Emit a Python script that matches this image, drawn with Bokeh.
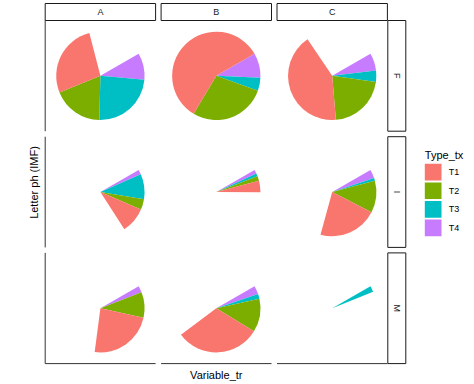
import numpy as np
from bokeh.plotting import figure
from bokeh.models import ColumnDataSource, Range1d
from bokeh.core.properties import value
from bokeh.embed import file_html
from bokeh.resources import INLINE

# ---------------- data ----------------
col_labels = ["A", "B", "C"]
row_labels = ["F", "I", "M"]
type_labels = ["T1", "T2", "T3", "T4"]
type_colors = ["#F8766D", "#7CAE00", "#00BFC4", "#C77CFF"]

# panels in order (F,A) (F,B) (F,C) (I,A) (I,B) (I,C) (M,A) (M,B) (M,C)
panel_col = ["A", "B", "C"] * 3
panel_row = ["F"] * 3 + ["I"] * 3 + ["M"] * 3
t1 = [27.1, 58.1, 41.9, 9.4, 4.2, 21.7, 23.6, 31.0, 0.0]
t2 = [18.5, 28.1, 21.4, 3.9, 1.7, 11.7, 9.4, 12.2, 0.0]
t3 = [24.0, 4.8, 4.2, 9.2, 1.1, 1.0, 0.0, 1.8, 2.2]
t4 = [9.7, 9.0, 6.4, 1.7, 1.4, 3.2, 2.4, 3.1, 0.0]
series = {"T1": t1, "T2": t2, "T3": t3, "T4": t4}

# ---------------- layout (page pixels) ----------------
W, H = 474, 384


def Y(s):  # page y (down) -> data y (up)
    return H - s


px0, pw, gap = 44.7, 110.4, 5.5
strip_top, strip_h = 3.0, 17.0
py0, ph = strip_top + strip_h, 110.7
rs_x0, rs_x1 = 387.3, 405.3

col_left = {c: px0 + i * (pw + gap) for i, c in enumerate(col_labels)}
row_top = {r: py0 + i * (ph + gap) for i, r in enumerate(row_labels)}

p = figure(width=W, height=H, output_backend="svg", toolbar_location=None,
           x_range=Range1d(0, W), y_range=Range1d(0, H),
           x_axis_location=None, y_axis_location=None, min_border=0)
p.grid.visible = False
p.outline_line_color = None
p.background_fill_color = "white"
p.border_fill_color = "white"

# ---------------- pies (coord_polar, theta shared across panels) ----------------
totals = [sum(series[t][k] for t in type_labels) for k in range(len(panel_col))]
scale = 2 * np.pi / max(totals)
start = np.pi / 3  # clockwise from 12 o'clock
radius = 0.4 * min(pw, ph)

wx, wy, ws, we, wc = [], [], [], [], []
for k, (c, r) in enumerate(zip(panel_col, panel_row)):
    cx = col_left[c] + pw / 2
    cy = Y(row_top[r] + ph / 2)
    cum = 0.0
    for t in reversed(type_labels):
        v = series[t][k]
        if v > 0:
            cw0 = start + cum * scale
            cw1 = start + (cum + v) * scale
            wx.append(cx)
            wy.append(cy)
            ws.append(np.pi / 2 - cw1)
            we.append(np.pi / 2 - cw0)
            wc.append(type_colors[type_labels.index(t)])
        cum += v

src = ColumnDataSource(dict(x=wx, y=wy, s=ws, e=we, c=wc))
p.wedge(x="x", y="y", radius=radius, start_angle="s", end_angle="e",
        direction="anticlock", fill_color="c", line_color=None, source=src)

# ---------------- strips ----------------
FONT = value("Liberation Sans")
tq_l, tq_r, tq_t, tq_b = [], [], [], []
for c in col_labels:
    tq_l.append(col_left[c]); tq_r.append(col_left[c] + pw)
    tq_t.append(Y(strip_top)); tq_b.append(Y(strip_top + strip_h))
for r in row_labels:
    tq_l.append(rs_x0); tq_r.append(rs_x1)
    tq_t.append(Y(row_top[r])); tq_b.append(Y(row_top[r] + ph))
p.quad(left=tq_l, right=tq_r, top=tq_t, bottom=tq_b, fill_color="white",
       line_color="#1a1a1a", line_width=1)

p.text(x=[col_left[c] + pw / 2 for c in col_labels],
       y=[Y(strip_top + strip_h / 2)] * 3, text=col_labels,
       text_align="center", text_baseline="middle", text_font=FONT,
       text_font_size=value("9px"), text_color="#1a1a1a")
p.text(x=[(rs_x0 + rs_x1) / 2] * 3,
       y=[Y(row_top[r] + ph / 2) for r in row_labels], text=row_labels,
       angle=-np.pi / 2, text_align="center", text_baseline="middle",
       text_font=FONT, text_font_size=value("9px"), text_color="#1a1a1a")

# ---------------- axis lines ----------------
sx0, sy0, sx1, sy1 = [], [], [], []
for r in row_labels:
    sx0.append(px0); sx1.append(px0)
    sy0.append(Y(row_top[r])); sy1.append(Y(row_top[r] + ph))
bottom = row_top[row_labels[-1]] + ph
for c in col_labels:
    sx0.append(col_left[c]); sx1.append(col_left[c] + pw)
    sy0.append(Y(bottom)); sy1.append(Y(bottom))
p.segment(x0=sx0, y0=sy0, x1=sx1, y1=sy1, line_color="#333333", line_width=1)

# ---------------- axis titles ----------------
p.text(x=[px0 + (3 * pw + 2 * gap) / 2], y=[Y(bottom + 11)], text=["Variable_tr"],
       text_align="center", text_baseline="middle", text_font=FONT,
       text_font_size=value("11px"), text_color="black")
p.text(x=[33], y=[Y(182)], text=["Letter ph (IMF)"],
       angle=np.pi / 2, text_align="center", text_baseline="middle",
       text_font=FONT, text_font_size=value("11px"), text_color="black")

# ---------------- legend ----------------
lx, ltop, kpitch, ksize = 424.3, 163.3, 18.6, 16.7
p.text(x=[lx], y=[Y(154)], text=["Type_tx"], text_align="left",
       text_baseline="middle", text_font=FONT, text_font_size=value("11px"),
       text_color="black")
p.quad(left=[lx] * 4, right=[lx + ksize] * 4,
       top=[Y(ltop + i * kpitch) for i in range(4)],
       bottom=[Y(ltop + i * kpitch + ksize) for i in range(4)],
       fill_color=type_colors, line_color=None)
p.text(x=[448.3] * 4, y=[Y(ltop + i * kpitch + ksize / 2) for i in range(4)],
       text=type_labels, text_align="left", text_baseline="middle",
       text_font=FONT, text_font_size=value("9px"), text_color="black")

open("out.html", "w").write(file_html(p, INLINE))
